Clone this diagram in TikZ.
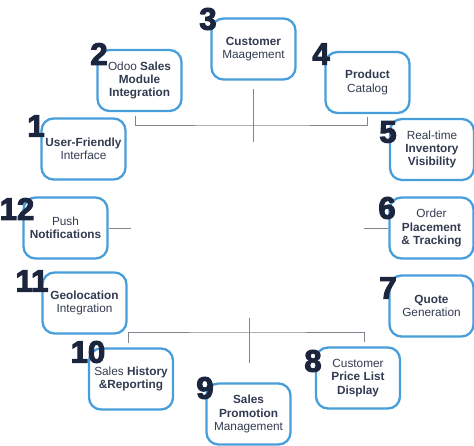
\documentclass[tikz,border=0pt]{standalone}
\usepackage{fontspec}
\setmainfont{Liberation Sans}
\newfontfamily\numfont[FakeBold=3.5]{Liberation Sans}
\usepackage{tikz}

\definecolor{boxblue}{RGB}{72,158,218}
\definecolor{navy}{RGB}{27,37,62}
\definecolor{linegray}{RGB}{128,134,142}

\begin{document}
\begin{tikzpicture}[x=1pt,y=-1pt,
  card/.style={draw=boxblue,line width=2.3pt,rounded corners=12pt,fill=white,
    minimum width=84pt,minimum height=61pt,inner sep=2pt,align=center,
    text=navy!90,font=\fontsize{11.8}{13.2}\selectfont},
  num/.style={text=navy,font=\numfont\bfseries\fontsize{31}{31}\selectfont,inner sep=0pt},
  link/.style={linegray,line width=0.9pt}]
\useasboundingbox (0,0) rectangle (474,446);

\node[card] (b3) at (253.5,49) {\textbf{Customer}\\Maagement};
\node[card] (b2) at (139.5,80.5) {Odoo \textbf{Sales}\\\textbf{Module}\\\textbf{Integration}};
\node[card] (b4) at (367.5,82.5) {\textbf{Product}\\Catalog};
\node[card] (b1) at (83.5,149) {\textbf{User-Friendly}\\Interface};
\node[card] (b5) at (432,149.5) {Real-time\\\textbf{Inventory}\\\textbf{Visibility}};
\node[card] (b12) at (65.5,228) {Push\\\textbf{Notifications}};
\node[card] (b6) at (431.5,228) {Order\\\textbf{Placement}\\\textbf{\& Tracking}};
\node[card] (b11) at (84.5,303) {\textbf{Geolocation}\\Integration};
\node[card] (b7) at (431.5,306) {\textbf{Quote}\\Generation};
\node[card] (b10) at (131,379) {Sales \textbf{History}\\\textbf{\&Reporting}};
\node[card] (b9) at (248.5,414) {\textbf{Sales}\\\textbf{Promotion}\\Management};
\node[card] (b8) at (358,378) {Customer\\\textbf{Price List}\\\textbf{Display}};

\node[num] (n3) at (208,19) {3};
\node[num] (n2) at (99,54) {2};
\node[num] (n4) at (321,54) {4};
\node[num] (n1) at (36,126) {1};
\node[num] (n5) at (388,132) {5};
\node[num] (n12) at (17,209) {12};
\node[num] (n6) at (387,208) {6};
\node[num] (n11) at (32,281) {11};
\node[num] (n7) at (388,288) {7};
\node[num] (n10) at (88,352) {10};
\node[num] (n9) at (205,388) {9};
\node[num] (n8) at (313,361) {8};

% joints
\coordinate (topHub) at (253.5,142);
\coordinate (topBar) at (253.5,125);
\coordinate (botHub) at (249,318);
\coordinate (botBar) at (249,332);
\coordinate (leftEnd) at (131,228);
\coordinate (rightEnd) at (364,228);

\draw[link,shorten <=8pt] (b3.south) -- (topHub);
\draw[link,shorten <=4pt,shorten >=3pt] ([xshift=-4pt]b2.south) |- (topBar) -| (b4.south);
\draw[link] (botHub) -- ++(0,45);
\draw[link,shorten <=4pt,shorten >=4pt] ([xshift=-3pt]b10.north) |- (botBar) -| ([xshift=6pt]b8.north);
\draw[link] (b12.east) -- (leftEnd);
\draw[link] (rightEnd) -- (b6.west);
\end{tikzpicture}
\end{document}
